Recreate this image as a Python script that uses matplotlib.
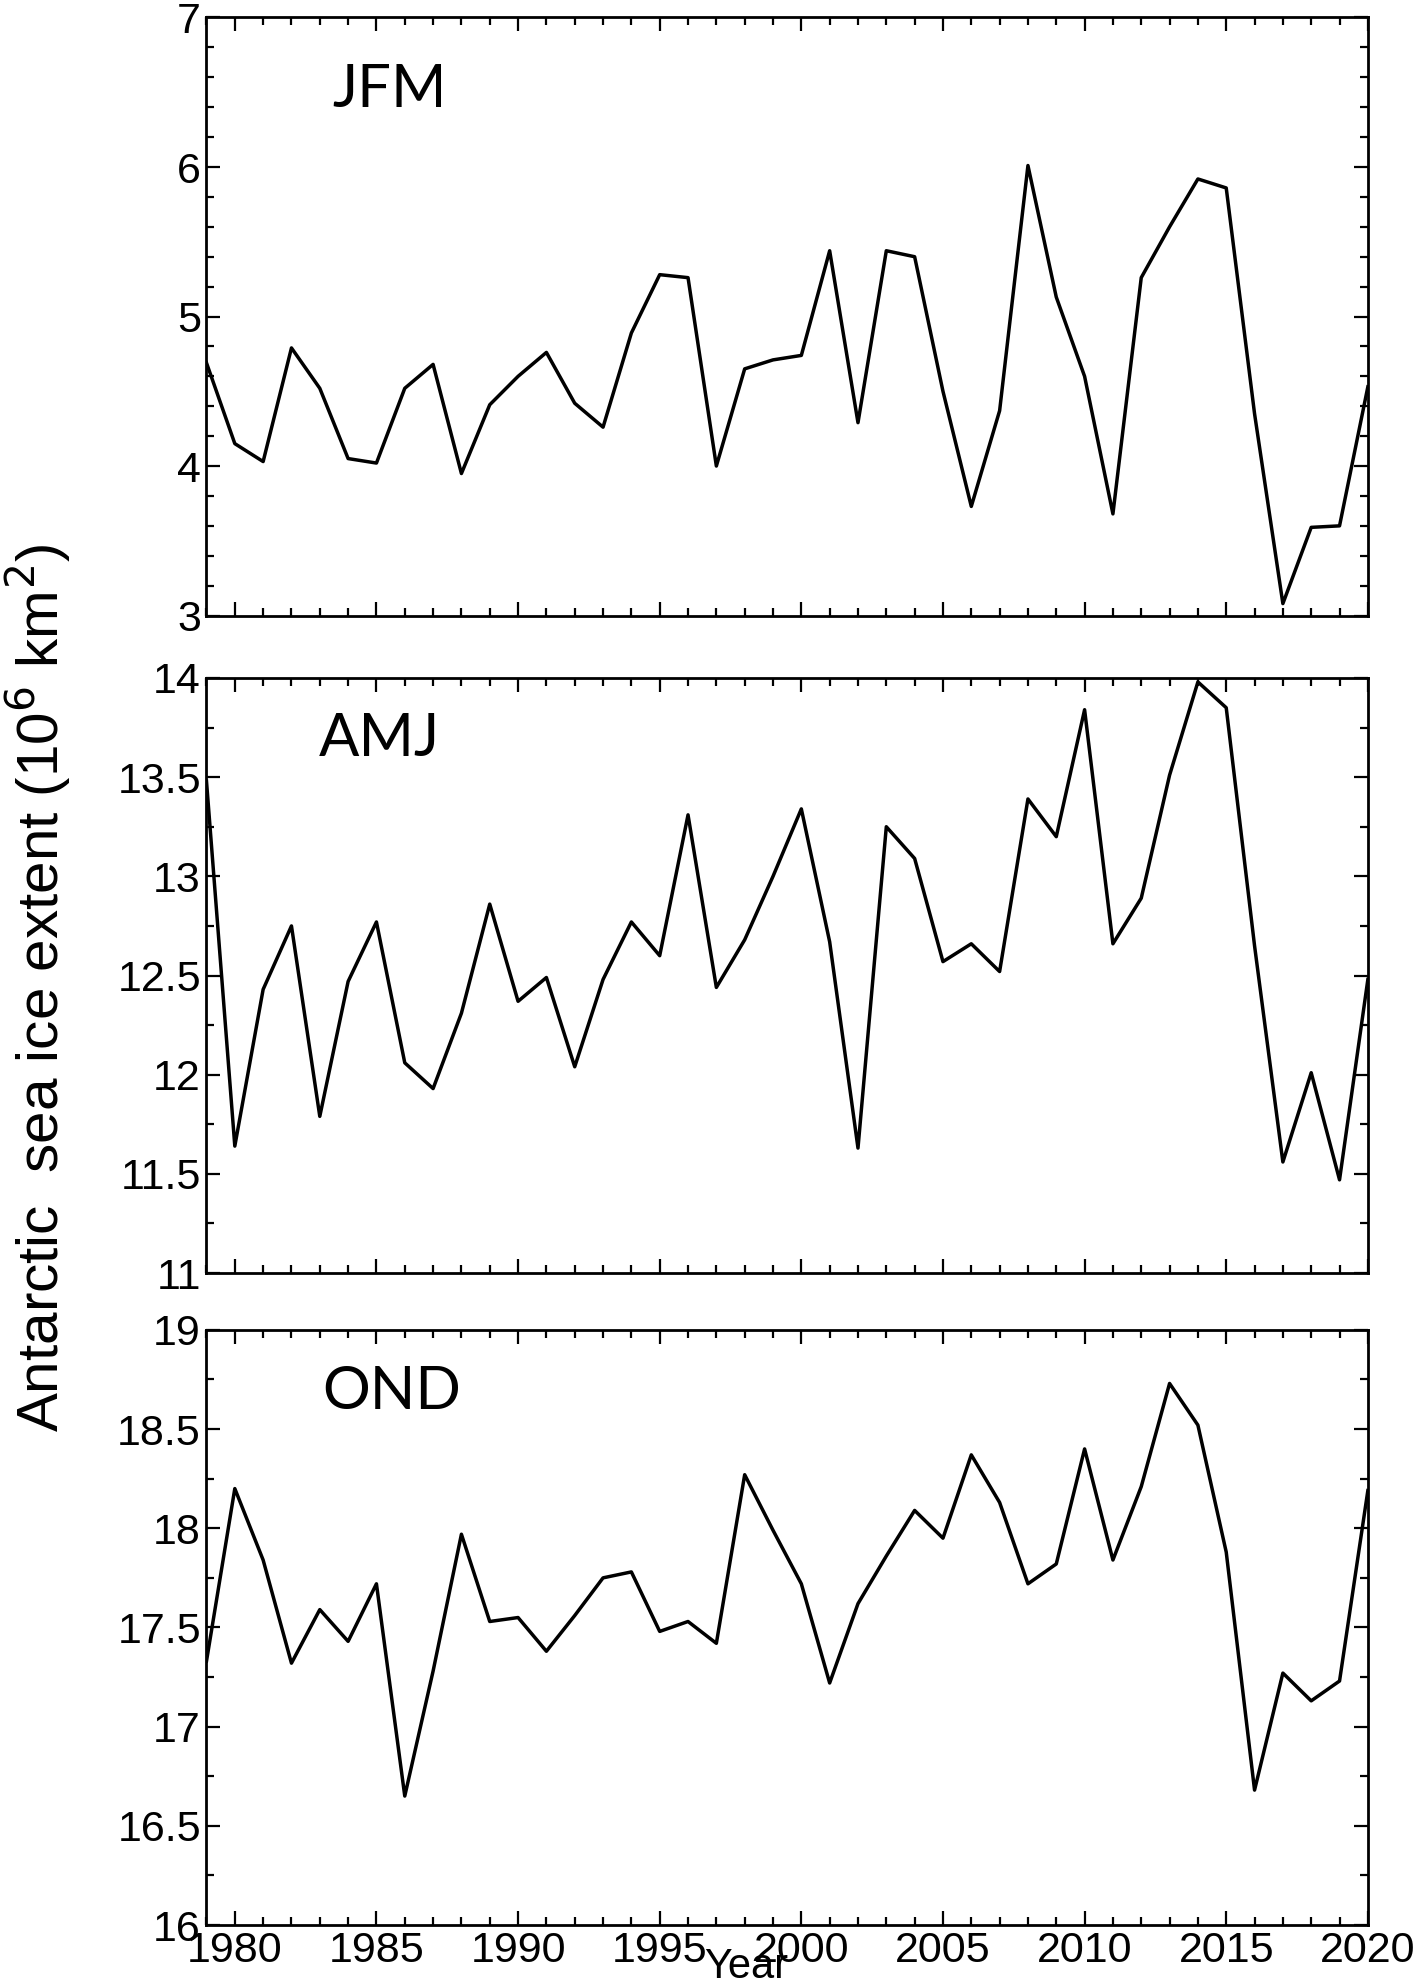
import numpy as np
import matplotlib
matplotlib.use("Agg")
import matplotlib.pyplot as plt
from matplotlib.ticker import MultipleLocator, FormatStrFormatter

# Antarctic sea ice extent, 10^6 km^2, seasonal means 1979-2020
years = np.arange(1979, 2021)

jfm = [4.69, 4.15, 4.03, 4.79, 4.52, 4.05, 4.02, 4.52, 4.68, 3.95,
       4.41, 4.60, 4.76, 4.42, 4.26, 4.89, 5.28, 5.26, 4.00, 4.65,
       4.71, 4.74, 5.44, 4.29, 5.44, 5.40, 4.50, 3.73, 4.37, 6.01,
       5.13, 4.60, 3.68, 5.26, 5.60, 5.92, 5.86, 4.35, 3.08, 3.59,
       3.60, 4.53]

amj = [13.48, 11.64, 12.43, 12.75, 11.79, 12.47, 12.77, 12.06, 11.93, 12.31,
       12.86, 12.37, 12.49, 12.04, 12.48, 12.77, 12.60, 13.31, 12.44, 12.68,
       13.00, 13.34, 12.67, 11.63, 13.25, 13.09, 12.57, 12.66, 12.52, 13.39,
       13.20, 13.84, 12.66, 12.89, 13.51, 13.98, 13.85, 12.65, 11.56, 12.01,
       11.47, 12.48]

ond = [17.33, 18.20, 17.84, 17.32, 17.59, 17.43, 17.72, 16.65, 17.28, 17.97,
       17.53, 17.55, 17.38, 17.56, 17.75, 17.78, 17.48, 17.53, 17.42, 18.27,
       17.99, 17.72, 17.22, 17.62, 17.86, 18.09, 17.95, 18.37, 18.13, 17.72,
       17.82, 18.40, 17.84, 18.21, 18.73, 18.52, 17.88, 16.68, 17.27, 17.13,
       17.23, 18.19]

seasons = ["JFM", "AMJ", "OND"]
series = [jfm, amj, ond]
ylims = [(3, 7), (11, 14), (16, 19)]
ymajor = [1, 0.5, 0.5]
yminor = [0.2, 0.25, 0.25]
label_pos = [(0.108, 0.878), (0.097, 0.898), (0.100, 0.895)]

plt.rcParams["font.family"] = ["Liberation Sans", "DejaVu Sans"]

fig = plt.figure(figsize=(14.25, 19.87), dpi=100)

# axes boxes [left, bottom, width, height] in figure fraction
boxes = [
    [0.1449, 0.6902, 0.815, 0.3010],
    [0.1449, 0.3593, 0.815, 0.2995],
    [0.1449, 0.0312, 0.815, 0.2995],
]

for i, (box, name, vals) in enumerate(zip(boxes, seasons, series)):
    ax = fig.add_axes(box)
    ax.plot(years, vals, color="black", lw=2.5)
    ax.set_xlim(1979, 2020)
    ax.set_ylim(*ylims[i])

    ax.xaxis.set_major_locator(MultipleLocator(5))
    ax.xaxis.set_minor_locator(MultipleLocator(1))
    ax.yaxis.set_major_locator(MultipleLocator(ymajor[i]))
    ax.yaxis.set_minor_locator(MultipleLocator(yminor[i]))
    ax.yaxis.set_major_formatter(FormatStrFormatter("%g"))

    ax.tick_params(which="both", direction="in", top=True, right=True,
                   width=1.6, labelsize=31)
    ax.tick_params(which="major", length=10)
    ax.tick_params(which="minor", length=6)
    ax.tick_params(axis="x", pad=4)
    ax.tick_params(axis="y", pad=4)
    if i < 2:
        ax.tick_params(axis="x", labelbottom=False)

    for sp in ax.spines.values():
        sp.set_linewidth(2)

    lx, ly = label_pos[i]
    ax.text(lx, ly, name, transform=ax.transAxes, fontsize=43,
            family=["Lato", "DejaVu Sans"], va="center", ha="left")

fig.text(0.027, 0.503, "Antarctic  sea ice extent (10$^6$ km$^2$)",
         rotation=90, ha="center", va="center", fontsize=42)
fig.text(0.524, 0.0, "Year", ha="center", va="bottom", fontsize=30)

fig.savefig("out.png", dpi=100)
